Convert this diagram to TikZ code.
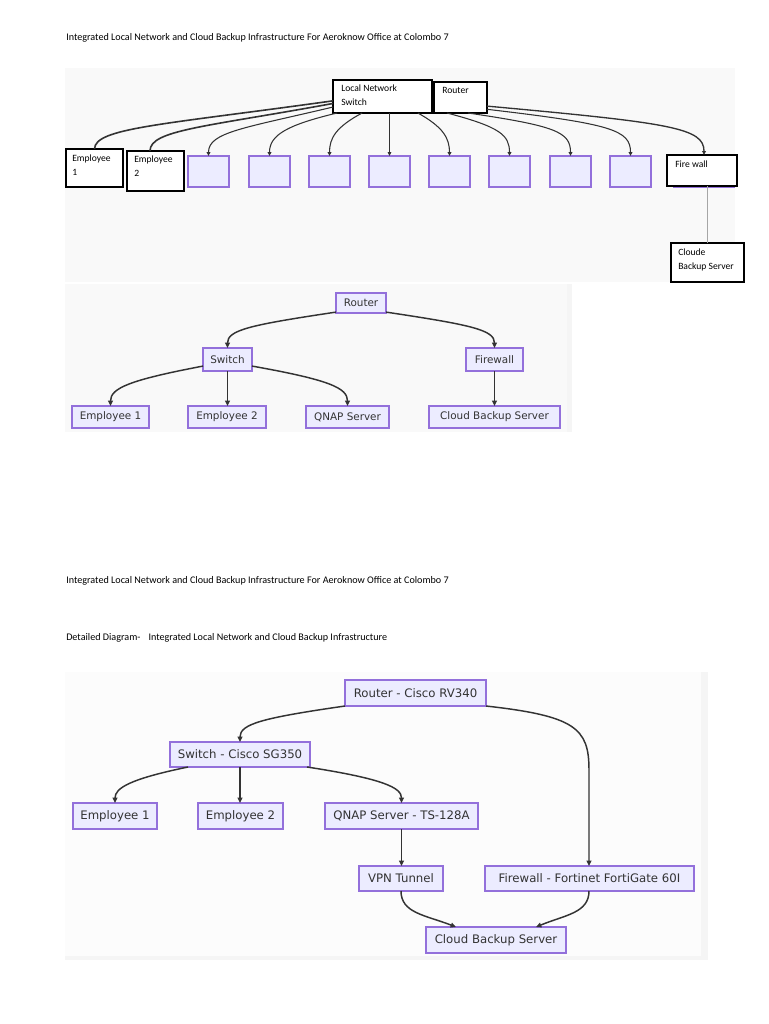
\documentclass[tikz,border=0pt]{standalone}
\usepackage{fontspec}
\setmainfont{Carlito}
\newfontfamily\mmfont{DejaVu Sans}
\usetikzlibrary{arrows.meta,fit,calc}
\definecolor{mmfill}{HTML}{ECECFF}
\definecolor{mmline}{HTML}{9370DB}
\definecolor{edgec}{HTML}{333333}
\definecolor{bgc}{HTML}{F9F9F9}
\begin{document}
\begin{tikzpicture}[x=0.75pt,y=-0.75pt,
  mm/.style={draw=mmline, fill=mmfill, line width=0.9pt, inner sep=0pt, outer sep=0pt},
  mmlab/.style={inner sep=0pt, text=edgec, font=\mmfont\fontsize{7.8}{9}\selectfont},
  mmlabb/.style={inner sep=0pt, text=edgec, font=\mmfont\fontsize{8.8}{10}\selectfont},
  ov/.style={draw=black, fill=white, line width=0.9pt, inner sep=0pt, outer sep=0pt},
  ovtext/.style={anchor=north west, inner sep=0pt, align=left, font=\fontsize{7.2}{10.5}\selectfont},
  edge/.style={draw=edgec, line width=1.1pt, -{Triangle[length=4pt,width=3.6pt]}},
  thinedge/.style={draw=edgec, line width=0.8pt, -{Triangle[length=3pt,width=2.8pt]}},
  plain/.style={draw=edgec, line width=1.2pt},
  hdr/.style={anchor=west, inner sep=0pt, font=\fontsize{7.6}{9}\selectfont}]

\useasboundingbox[fill=white] (0,0) rectangle (768,1024);

% headers
\node[hdr] (h1) at (66,38) {Integrated Local Network and Cloud Backup Infrastructure For Aeroknow Office at Colombo 7};
\node[hdr] (h2) at (66,581) {Integrated Local Network and Cloud Backup Infrastructure For Aeroknow Office at Colombo 7};
\node[hdr] (h3) at (66,638) {Detailed Diagram-\hspace{0.8em}Integrated Local Network and Cloud Backup Infrastructure};

% ---------------- top diagram ----------------
\fill[bgc] (65,68) rectangle (735,282);

\foreach \x [count=\i] in {188,249,309,369,429,489,550,610}
  \node[mm, fit={(\x,156) (\x+41,187)}] (tb\i) {};
\node[mm, fit={(674,156) (734,187)}] (tfwp) {};

\node[ov, fit={(333,80) (432,113)}] (tsw) {};
\node[ov, fit={(434,82) (487,113)}] (trt) {};
\node[ov, fit={(66,149) (123,187)}] (te1) {};
\node[ov, fit={(127,151) (184,191)}] (te2) {};
\node[ov, fit={(667,155) (737,186)}] (tfw) {};
\node[ov, fit={(671,243) (744,282)}] (tcl) {};

\node[ovtext] (tswt) at ($(tsw.north west)+(8,5)$) {Local Network\\Switch};
\node[ovtext] (trtt) at ($(trt.north west)+(8,5)$) {Router};
\node[ovtext] (te1t) at ($(te1.north west)+(6,6)$) {Employee\\1};
\node[ovtext] (te2t) at ($(te2.north west)+(7,5)$) {Employee\\2};
\node[ovtext] (tfwt) at ($(tfw.north west)+(8,6)$) {Fire wall};
\node[ovtext] (tclt) at ($(tcl.north west)+(7,6)$) {Cloude\\Backup Server};

% top connectors
\draw[plain] (tsw.185) .. controls (160,125) and (95,128) .. (te1.north);
\draw[plain] (tsw.188) .. controls (205,127) and (150,130) .. ($(te2.north west)+(23,0)$);
\draw[thinedge] (tsw.192) .. controls (245,128) and (208.5,132) .. (tb1.north);
\draw[thinedge] (tsw.200) .. controls (287,125) and (269.5,135) .. (tb2.north);
\draw[thinedge] (tsw.219) .. controls (336,127) and (329.5,138) .. (tb3.north);
\draw[thinedge, line width=0.6pt] (tb4.north |- tsw.south) -- (tb4.north);
\draw[thinedge] (tsw.335) .. controls (443,127) and (449.5,138) .. (tb5.north);
\draw[thinedge] (trt.229) .. controls (500,127) and (509.5,135) .. (tb6.north);
\draw[thinedge] (trt.296) .. controls (556,126) and (570.5,132) .. (tb7.north);
\draw[thinedge] (trt.336) .. controls (612,124) and (630.5,130) .. (tb8.north);
\draw[thinedge, line width=1pt] (trt.342) .. controls (672,123) and (704,128) .. (tfw.north -| tfwp.north);
\draw[draw=gray!70, line width=1.2pt] (tfw.south -| tcl.north) -- (tcl.north);

% ---------------- middle diagram ----------------
\fill[bgc] (65,284) rectangle (572,432);
\fill[gray!8] (567,284) rectangle (572,432);

\node[mm, fit={(336,293) (386,313)}, label={[mmlab]center:Router}] (mr) {};
\node[mm, fit={(203,348) (252,371)}, label={[mmlab]center:Switch}] (msw) {};
\node[mm, fit={(466,348) (523,371)}, label={[mmlab]center:Firewall}] (mfw) {};
\node[mm, fit={(72,406) (149,428)}, label={[mmlab]center:Employee 1}] (me1) {};
\node[mm, fit={(188,406) (266,428)}, label={[mmlab]center:Employee 2}] (me2) {};
\node[mm, fit={(306,406) (389,428)}, label={[mmlab]center:QNAP Server}] (mq) {};
\node[mm, fit={(429,406) (560,428)}, label={[mmlab]center:Cloud Backup Server}] (mcl) {};

\draw[edge] (mr.200) .. controls (250,325) and (227.5,330) .. (msw.north);
\draw[edge] (mr.340) .. controls (472,325) and (494.5,330) .. (mfw.north);
\draw[edge] (msw.195) .. controls (130,380) and (110.5,388) .. (me1.north);
\draw[edge] (msw.south) -- (me2.north -| msw.south);
\draw[edge] (msw.345) .. controls (330,380) and (347.5,388) .. (mq.north);
\draw[edge] (mfw.south) -- (mcl.north -| mfw.south);

% ---------------- bottom diagram ----------------
\fill[white!98!gray] (65,672) rectangle (708,960);
\fill[gray!8] (701,672) rectangle (708,960);
\fill[gray!8] (65,956) rectangle (708,960);

\node[mm, fit={(345,680) (486,706)}, label={[mmlabb]center:Router - Cisco RV340}] (br) {};
\node[mm, fit={(170,742) (310,767)}, label={[mmlabb]center:Switch - Cisco SG350}] (bsw) {};
\node[mm, fit={(73,803) (157,829)}, label={[mmlabb]center:Employee 1}] (be1) {};
\node[mm, fit={(198,803) (283,829)}, label={[mmlabb]center:Employee 2}] (be2) {};
\node[mm, fit={(325,803) (478,829)}, label={[mmlabb]center:QNAP Server - TS-128A}] (bq) {};
\node[mm, fit={(359,866) (443,891)}, label={[mmlabb]center:VPN Tunnel}] (bvpn) {};
\node[mm, fit={(485,866) (694,891)}, label={[mmlabb]center:Firewall - Fortinet FortiGate 60I}] (bfw) {};
\node[mm, fit={(426,927) (566,953)}, label={[mmlabb]center:Cloud Backup Server}] (bcl) {};

\draw[edge] (br.south west) .. controls (262,718) and (240,724) .. (bsw.north);
\draw[edge] (br.south east) .. controls (575,716) and (589,728) .. (589,770) -- (bfw.north -| 589,0);
\draw[edge] (bsw.south west) ++(18,0) .. controls (130,779) and (115,788) .. (be1.north);
\draw[edge] (bsw.south) -- (be2.north -| bsw.south);
\draw[edge] (bsw.south east) ++(-3,0) .. controls (385,779) and (401.5,788) .. (bq.north);
\draw[edge] (bq.south) -- (bvpn.north -| bq.south);
\draw[edge] (bvpn.south) .. controls (401,913) and (425,915) .. ($(bcl.north)+(-40,0)$);
\draw[edge] (bfw.south -| 589,0) .. controls (589,913) and (565,915) .. ($(bcl.north)+(40,0)$);

\end{tikzpicture}
\end{document}
